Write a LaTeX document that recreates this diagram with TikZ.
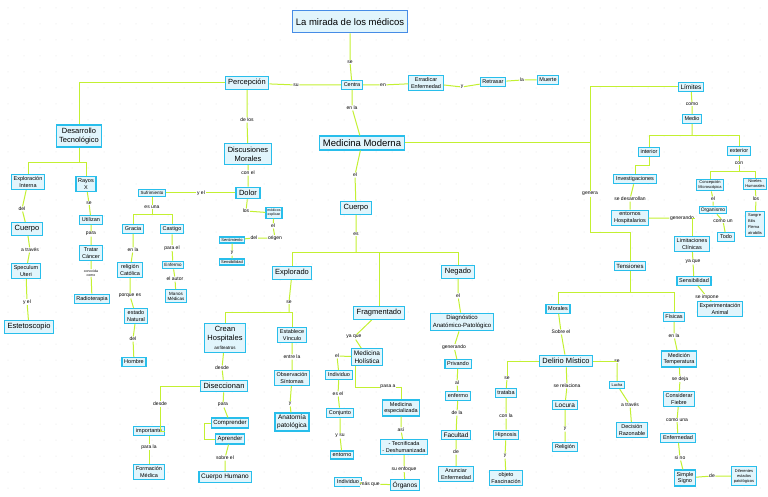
\documentclass[tikz,border=0pt]{standalone}
\usepackage{fontspec}
\setmainfont{Liberation Sans}
\definecolor{bb}{RGB}{40,190,235}
\definecolor{bf}{RGB}{225,245,252}
\definecolor{ln}{RGB}{195,240,50}
\definecolor{tb}{RGB}{70,140,230}
\begin{document}
\begin{tikzpicture}[x=1pt,y=-1pt,
 bx/.style={draw=bb,fill=bf,line width=1.1pt,inner sep=2.2pt,align=center,font=\fontsize{5.5}{6.5}\selectfont},
 bxm/.style={bx,inner sep=3pt,font=\fontsize{7.5}{9}\selectfont},
 bxl/.style={bx,inner sep=3.5pt,font=\fontsize{9.5}{11}\selectfont},
 lb/.style={inner sep=0.5pt,fill=white,align=center,font=\fontsize{5}{6}\selectfont}]
\useasboundingbox (0,0) rectangle (768,497);
\foreach \i in {8,24,...,768} \foreach \j in {8,24,...,497} \fill[gray!25] (\i,\j) circle (0.5);
% top
\node[bxl,draw=tb,line width=1pt,minimum width=112pt,minimum height=22pt] (title) at (350,22) {La mirada de los médicos};
\node[lb] (se) at (350,62) {se};
\node[bx] (Centra) at (352,85) {Centra};
\node[lb] (su) at (296,85) {su};
\node[bxm] (Perc) at (247,83) {Percepción};
\node[lb] (en) at (383,85) {en};
\node[bx] (Err) at (426,83) {Erradicar\\Enfermedad};
\node[lb] (y1) at (462,87) {y};
\node[bx] (Ret) at (493,82) {Retrasar};
\node[lb] (la) at (522,80) {la};
\node[bx] (Muerte) at (548,80) {Muerte};
\node[lb] (enla) at (352,108) {en la};
\node[bxl] (MedMod) at (362,143) {Medicina Moderna};
\node[lb] (el1) at (355,175) {el};
\node[bxm] (Cuerpo) at (356,208) {Cuerpo};
\node[lb] (es) at (356,234) {es};
\coordinate (jes) at (356,252);
\node[bxm] (Expl) at (292,273) {Explorado};
\node[bxm] (Frag) at (379,313) {Fragmentado};
\node[bxm] (Neg) at (458,272) {Negado};
% left
\node[bxm] (DesTec) at (79,136) {Desarrollo\\Tecnológico};
\coordinate (jdt) at (79,163);
\node[bx] (ExpInt) at (28,182) {Exploración\\Interna};
\node[bx] (Rayos) at (86,184) {Rayos\\X};
\node[lb] (del1) at (22,209) {del};
\node[bxm] (Cuerpo2) at (27,229) {Cuerpo};
\node[lb] (atr) at (30,250) {a través};
\node[bx] (Spec) at (26,271) {Speculum\\Uteri};
\node[lb] (yel) at (27,302) {y el};
\node[bxm] (Est) at (29,327) {Estetoscopio};
\node[lb] (se2) at (89,203) {se};
\node[bx] (Util) at (91,220) {Utilizan};
\node[lb] (para) at (91,234) {para};
\node[bx] (Trat) at (91,253) {Tratar\\Cáncer};
\node[lb,font=\fontsize{3.5}{4}\selectfont] (conoc) at (91,273) {conocida\\como};
\node[bx] (Radio) at (92,299) {Radioterapia};
% percepcion
\node[lb] (delos) at (247,120) {de los};
\node[bxm] (Disc) at (248,154) {Discusiones\\Morales};
\node[lb] (conel) at (248,173) {con el};
\node[bxm] (Dolor) at (248,193) {Dolor};
\node[lb] (yel2) at (201,193) {y el};
\node[bx,font=\fontsize{4.5}{5}\selectfont] (Sufr) at (152,193) {Sufrimiento};
\node[lb] (esuna) at (152,207) {es una};
\coordinate (jsu) at (152,215);
\node[bx] (Gracia) at (133,229) {Gracia};
\node[bx] (Cast) at (172,229) {Castigo};
\node[lb] (enla2) at (133,250) {en la};
\node[bx] (relCat) at (130,270) {religión\\Católica};
\node[lb] (porq) at (130,296) {porque es};
\node[bx] (estNat) at (136,316) {estado\\Natural};
\node[lb] (del2) at (133,339) {del};
\node[bx] (Hombre) at (134,362) {Hombre};
\node[lb] (parael) at (172,248) {para el};
\node[bx,font=\fontsize{4.5}{5}\selectfont] (Enf) at (173,265) {Enfermo};
\node[lb] (elaut) at (175,279) {el autor};
\node[bx,font=\fontsize{4.5}{5}\selectfont] (Manos) at (176,296) {Manos\\Médicas};
\node[lb] (los) at (246,211) {los};
\node[bx,font=\fontsize{3.5}{4}\selectfont,inner sep=1.5pt] (medExp) at (274,213) {médicos\\explican};
\node[lb] (el2) at (273,226) {el};
\node[lb] (origen) at (275,238) {origen};
\node[lb] (del3) at (254,238) {del};
\node[bx,font=\fontsize{4}{5}\selectfont,inner sep=1.5pt] (Sent) at (232,240) {Sentimiento};
\node[lb] (y2) at (232,253) {y};
\node[bx,font=\fontsize{4}{5}\selectfont,inner sep=1.5pt] (Sensib) at (232,262) {Sensibilidad};
% explorado
\node[lb] (se3) at (289,302) {se};
\coordinate (jse3) at (289,312);
\node[bxm] (Crean) at (225,338) {Crean\\Hospitales\\{\fontsize{4.5}{5}\selectfont anfiteatros}};
\node[bx] (Estab) at (292,335) {Establece\\Vínculo};
\node[lb] (desde) at (222,368) {desde};
\node[bxm] (Disec) at (224,386) {Diseccionan};
\node[lb] (desde2) at (160,404) {desde};
\node[bx] (Imp) at (149,431) {importante};
\node[lb] (parala) at (149,447) {para la};
\node[bx] (Form) at (149,472) {Formación\\Médica};
\node[lb] (para2) at (223,405) {para};
\node[bx,font=\fontsize{6}{7}\selectfont] (Comp) at (230,423) {Comprender};
\node[bx,font=\fontsize{6}{7}\selectfont] (Apr) at (230,439) {Aprender};
\node[lb] (sobre) at (225,458) {sobre el};
\node[bx,font=\fontsize{6.5}{7}\selectfont] (CH) at (225,477) {Cuerpo Humano};
\node[lb] (entre) at (292,357) {entre la};
\node[bx] (Obs) at (292,378) {Observación\\Síntomas};
\node[lb] (y3) at (290,404) {y};
\node[bx,font=\fontsize{6.5}{7.5}\selectfont] (Anat) at (292,422) {Anatomía\\patológica};
% fragmentado
\node[lb] (yaque) at (354,337) {ya que};
\node[bx,font=\fontsize{6.5}{7.5}\selectfont] (Hol) at (367,357) {Medicina\\Holística};
\node[lb] (el3) at (337,356) {el};
\node[bx] (Indiv) at (339,375) {Individuo};
\node[lb] (esel) at (338,394) {es el};
\node[bx] (Conj) at (340,413) {Conjunto};
\node[lb] (ysu) at (340,436) {y su};
\node[bx] (ent) at (342,455) {entorno};
\node[lb] (pasa) at (388,387) {pasa a};
\node[bx] (MedEsp) at (401,408) {Medicina\\especializada};
\node[lb] (asi) at (401,430) {así};
\node[bx] (Tecn) at (404,447) {- Tecnificada\\- Deshumanizada};
\node[lb] (enf) at (404,469) {su enfoque};
\node[bx,font=\fontsize{6.5}{7}\selectfont] (Org) at (405,485) {Órganos};
\node[bx] (Indiv2) at (348,482) {Individuo};
\node[lb] (masq) at (370,484) {más que};
% negado
\node[lb] (el4) at (458,296) {el};
\node[bx,font=\fontsize{6}{7.5}\selectfont] (Diag) at (462,322) {Diagnóstico\\Anatómico-Patológico};
\node[lb] (gen) at (454,347) {generando};
\node[bx] (Priv) at (458,364) {Privando};
\node[lb] (al) at (457,383) {al};
\node[bx] (enfermo) at (458,396) {enfermo};
\node[lb] (dela) at (457,413) {de la};
\node[bx,font=\fontsize{6.5}{7}\selectfont] (Fac) at (456,435) {Facultad};
\node[lb] (de) at (456,452) {de};
\node[bx] (Anun) at (456,474) {Anunciar\\Enfermedad};
% tensiones
\node[lb] (genera) at (590,194) {genera};
\node[bx,font=\fontsize{6}{7}\selectfont] (Tens) at (630,266) {Tensiones};
\coordinate (jt) at (630,292);
\node[bx] (Mor) at (558,309) {Morales};
\node[bx] (Fis) at (674,317) {Físicas};
\node[lb] (sobreel) at (561,332) {Sobre el};
\node[bxm] (Del) at (566,361) {Delirio Místico};
\node[lb] (se4) at (507,378) {se};
\node[bx] (trat) at (506,393) {trataba};
\node[lb] (conla) at (506,416) {con la};
\node[bx] (Hip) at (506,435) {Hipnosis};
\node[lb] (y4) at (505,456) {y};
\node[bx] (obj) at (506,478) {objeto\\Fascinación};
\node[lb] (serel) at (567,386) {se relaciona};
\node[bx,font=\fontsize{6.5}{7}\selectfont] (Loc) at (565,405) {Locura};
\node[lb] (y5) at (565,429) {y};
\node[bx] (Rel) at (565,447) {Religión};
\node[lb] (se5) at (617,361) {se};
\node[bx,font=\fontsize{4}{5}\selectfont] (Lucha) at (617,385) {Lucha};
\node[lb] (atr2) at (630,405) {a través};
\node[bx] (Dec) at (632,430) {Decisión\\Razonable};
\node[lb] (enla3) at (674,336) {en la};
\node[bx] (Med) at (679,359) {Medición\\Temperatura};
\node[lb] (sedeja) at (680,379) {se deja};
\node[bx] (Cons) at (679,399) {Considerar\\Fiebre};
\node[lb] (comouna) at (677,420) {como una};
\node[bx] (Enfd) at (678,438) {Enfermedad};
\node[lb] (sino) at (680,458) {si no};
\node[bx] (Signo) at (685,478) {Simple\\Signo};
\node[lb] (de2) at (712,476) {de};
\node[bx,font=\fontsize{4}{5}\selectfont] (Dif) at (744,476) {Diferentes\\estados\\patológicos};
% limites
\node[bx,font=\fontsize{6.5}{7}\selectfont] (Lim) at (691,87) {Límites};
\node[lb] (como) at (692,104) {como};
\node[bx] (Medio) at (692,119) {Medio};
\coordinate (jm) at (692,136);
\node[bx] (inter) at (649,152) {interior};
\node[bx] (exter) at (739,151) {exterior};
\node[bx] (Inv) at (635,179) {Investigaciones};
\node[lb] (sedes) at (630,199) {se desarrollan};
\node[bx] (ento) at (630,218) {entornos\\Hospitalarios};
\node[lb] (gen2) at (682,218) {generando};
\node[bx] (Limc) at (692,244) {Limitaciones\\Clínicas};
\node[lb] (yaque2) at (693,262) {ya que};
\node[bx] (Sen2) at (694,281) {Sensibilidad};
\node[lb] (seimp) at (707,297) {se impone};
\node[bx] (Expe) at (720,309) {Experimentación\\Animal};
\node[lb] (con) at (739,163) {con};
\coordinate (jex) at (739,172);
\node[bx,font=\fontsize{4}{5}\selectfont,inner sep=1.5pt] (Conc) at (710,185) {Concepción\\Microscópica};
\node[bx,font=\fontsize{4}{5}\selectfont,inner sep=1.5pt] (Niv) at (755,184) {Niveles\\Humorales};
\node[lb] (el6) at (713,199) {el};
\node[bx,font=\fontsize{5}{6}\selectfont,inner sep=1.5pt] (Orgm) at (713,210) {Organismo};
\node[lb] (comoun) at (723,221) {como un};
\node[bx] (Todo) at (726,237) {Todo};
\node[lb] (los2) at (756,199) {los};
\node[bx,font=\fontsize{4}{6}\selectfont,align=left] (Hum) at (755,224) {Sangre\\Bilis\\Flema\\atrabilis};
% connectors
\begin{scope}[every path/.style={draw=ln,line width=1pt}]
\draw (title)--(se)--(Centra);
\draw (Centra)--(su)--(Perc);
\draw (Centra)--(en)--(Err)--(y1)--(Ret)--(la)--(Muerte);
\draw (Centra)--(enla)--(MedMod)--(el1)--(Cuerpo)--(es)--(jes);
\draw (jes)-|(Expl); \draw (jes)-|(Frag); \draw (jes)-|(Neg);
\draw (Perc)-|(DesTec);
\draw (DesTec)--(jdt); \draw (jdt)-|(ExpInt); \draw (jdt)-|(Rayos);
\draw (ExpInt)--(del1)--(Cuerpo2)--(atr)--(Spec)--(yel)--(Est);
\draw (Rayos)--(se2)--(Util)--(para)--(Trat)--(conoc)--(Radio);
\draw (Perc)--(delos)--(Disc)--(conel)--(Dolor);
\draw (Dolor)--(yel2)--(Sufr)--(esuna)--(jsu);
\draw (jsu)-|(Gracia); \draw (jsu)-|(Cast);
\draw (Gracia)--(enla2)--(relCat)--(porq)--(estNat)--(del2)--(Hombre);
\draw (Cast)--(parael)--(Enf)--(elaut)--(Manos);
\draw (Dolor)--(los); \draw (los)--(medExp)--(el2)--(origen)--(del3)--(Sent)--(y2)--(Sensib);
\draw (Expl)--(se3)--(jse3); \draw (jse3)-|(Crean); \draw (jse3)-|(Estab);
\draw (Crean)--(desde)--(Disec);
\draw (Disec)-|(desde2); \draw (desde2)|-(Imp); \draw (Imp)--(parala)--(Form);
\draw (Disec)--(para2)--(Comp); \draw (Comp.west)--++(-6,0)|-(Apr.west);
\draw (Apr)--(sobre)--(CH);
\draw (Estab)--(entre)--(Obs)--(y3)--(Anat);
\draw (Frag)--(yaque)--(Hol);
\draw (Hol)--(el3)--(Indiv)--(esel)--(Conj)--(ysu)--(ent);
\draw ([xshift=4pt]Hol.south west)|-(pasa); \draw (pasa)-|(MedEsp);
\draw (MedEsp)--(asi)--(Tecn)--(enf)--(Org);
\draw (Indiv2)--(masq)--(Org);
\draw (Neg)--(el4)--(Diag)--(gen)--(Priv)--(al)--(enfermo)--(dela)--(Fac)--(de)--(Anun);
\draw (MedMod)-|(genera); \draw (Lim)-|(genera);
\draw (genera)|-(630,232)--(Tens);
\draw (Tens)--(jt); \draw (jt)-|(Mor); \draw (jt)-|(Fis);
\draw (Mor)--(sobreel)--(Del);
\draw (Del)-|(se4); \draw (se4)--(trat)--(conla)--(Hip)--(y4)--(obj);
\draw (Del)--(serel)--(Loc)--(y5)--(Rel);
\draw (Del)-|(se5); \draw (se5)--(Lucha)--(atr2)--(Dec);
\draw (Fis)--(enla3)--(Med)--(sedeja)--(Cons)--(comouna)--(Enfd)--(sino)--(Signo)--(de2)--(Dif);
\draw (Lim)--(como)--(Medio)--(jm); \draw (jm)-|(inter); \draw (jm)-|(exter);
\draw (inter)|-(635,166)--(Inv); \draw (Inv)--(sedes)--(ento)--(gen2); \draw (gen2)-|(Limc);
\draw (Limc)--(yaque2)--(Sen2)--(seimp)--(Expe);
\draw (exter)--(con)--(jex); \draw (jex)-|(Conc); \draw (jex)-|(Niv);
\draw (Conc)--(el6)--(Orgm)--(comoun)--(Todo);
\draw (Niv)--(los2)--(Hum);
\end{scope}
\end{tikzpicture}
\end{document}
